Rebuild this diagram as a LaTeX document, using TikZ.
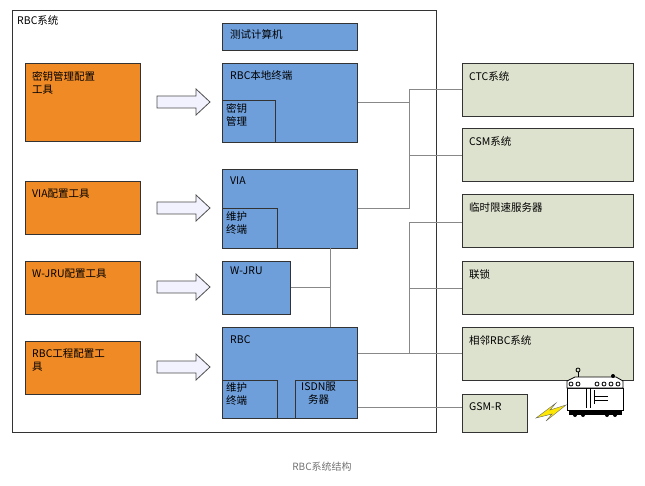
\documentclass[tikz,border=0pt]{standalone}
\usepackage{fontspec}
\setmainfont{Liberation Serif}
\newfontfamily\cjk{Noto Sans CJK SC}
\definecolor{org}{HTML}{F08A24}
\definecolor{blu}{HTML}{6F9FDB}
\definecolor{grn}{HTML}{DDE2CE}
\definecolor{ln}{HTML}{888888}
\begin{document}
\begin{tikzpicture}[x=1pt,y=-1pt,
  box/.style={draw=black!80,line width=1.2pt,anchor=north west,inner sep=0pt},
  lbl/.style={font=\cjk\fontsize{10.5}{13}\selectfont,align=left,anchor=north west,inner sep=0pt},
  wire/.style={draw=ln,line width=0.8pt},
  barrow/.style={draw=black!70,fill=blue!5,line width=0.8pt}]
\useasboundingbox (0,0) rectangle (645,486);
\draw[black!80,line width=0.8pt] (12,10) rectangle (436,432);
\node[lbl] at (17,15) {RBC系统};
% orange
\foreach \n/\y/\h/\t in {o1/63/78/{密钥管理配置\\工具},o2/181/53/{VIA配置工具},o3/261/53/{W-JRU配置工具},o4/341/53/{RBC工程配置工\\具}}{
  \node[box,fill=org,minimum width=115pt,minimum height=\h pt] (\n) at (25,\y) {};
  \node[lbl] at (32,\y+8) {\t};
}
% arrows
\foreach \y in {102,208,287,367}
  \draw[barrow] (157,\y-6) -- (196,\y-6) -- (196,\y-13) -- (210,\y) -- (196,\y+13) -- (196,\y+6) -- (157,\y+6) -- cycle;
% blue
\node[box,fill=blu,minimum width=135pt,minimum height=27pt] (test) at (222,23) {};
\node[lbl] at (230,29) {测试计算机};
\node[box,fill=blu,minimum width=135pt,minimum height=79pt] (loc) at (222,63) {};
\node[lbl] at (230,70) {RBC本地终端};
\node[box,fill=blu,minimum width=53pt,minimum height=42pt] (km) at (222,100) {};
\node[lbl] at (226,103) {密钥\\管理};
\node[box,fill=blu,minimum width=135pt,minimum height=79pt] (via) at (222,169) {};
\node[lbl] at (230,177) {VIA};
\node[box,fill=blu,minimum width=55pt,minimum height=40pt] (vm) at (222,208) {};
\node[lbl] at (226,211) {维护\\终端};
\node[box,fill=blu,minimum width=68pt,minimum height=53pt] (wj) at (222,261) {};
\node[lbl] at (230,267) {W-JRU};
\node[box,fill=blu,minimum width=135pt,minimum height=91pt] (rbc) at (222,327) {};
\node[lbl] at (230,335) {RBC};
\node[box,fill=blu,minimum width=55pt,minimum height=38pt] (rm) at (222,380) {};
\node[lbl] at (226,382) {维护\\终端};
\node[box,fill=blu,minimum width=62pt,minimum height=38pt] (isdn) at (295,380) {};
\node[lbl,align=center] at (301,382) {ISDN服\\务器};
% right
\foreach \n/\y/\t in {ctc/63/CTC系统,csm/128/CSM系统,tsr/194/临时限速服务器,il/261/联锁,adj/327/相邻RBC系统}{
  \node[box,fill=grn,minimum width=171pt,minimum height=53pt] (\n) at (462,\y) {};
  \node[lbl] at (469,\y+8) {\t};
}
\node[box,fill=grn,minimum width=65pt,minimum height=38pt] (gsm) at (462,394) {};
\node[lbl] at (469,402) {GSM-R};
% wires
\coordinate (b1) at (409,89); \coordinate (b2) at (409,208);
\draw[wire] (loc.east|-0,102) -- (409,102);
\draw[wire] (via.east|-0,208) -- (b2) -- (b1) -- (ctc.west|-b1);
\draw[wire] (409,155) -- (csm.west|-0,155);
\draw[wire] (rbc.east|-0,353) -- (adj.west|-0,353);
\draw[wire] (409,353) -- (409,222) -- (tsr.west|-0,222);
\draw[wire] (409,288) -- (il.west|-0,288);
\draw[wire] (isdn.east|-0,407) -- (gsm.west|-0,407);
\draw[wire] (330,248) -- (330,327);
\draw[wire] (wj.east|-0,287) -- (330,287);
% lightning
\draw[fill=yellow!90!orange,draw=black!60,line width=0.4pt] (536,418) -- (556,403) -- (550,410) -- (566,405) -- (546,421) -- (552,414) -- cycle;
% train
\begin{scope}[line width=0.8pt]
\draw[fill=white] (567,388) rectangle (623,410);
\draw[fill=white] (567,381) -- (575,377) -- (616,377) -- (623,381) -- (623,388) -- (567,388) -- cycle;
\foreach \x in {571,578,597,604,611,618} \draw (\x,384) circle (2);
\draw (586,388) -- (586,408) (590,388) -- (590,408) (594,390)--(594,404) (594,396)--(608,396) (594,400)--(608,400);
\draw[fill=black] (569,410) rectangle (621,414);
\fill (575,415) circle (2) (583,415) circle (2) (607,415) circle (2) (615,415) circle (2);
\draw (578,377) -- (578,372); \draw (578,370) circle (2);
\fill (613,376) circle (2);
\end{scope}
\node[font=\cjk\fontsize{10}{12}\selectfont,text=black!55] (cap) at (322,467) {RBC系统结构};
\end{tikzpicture}
\end{document}
